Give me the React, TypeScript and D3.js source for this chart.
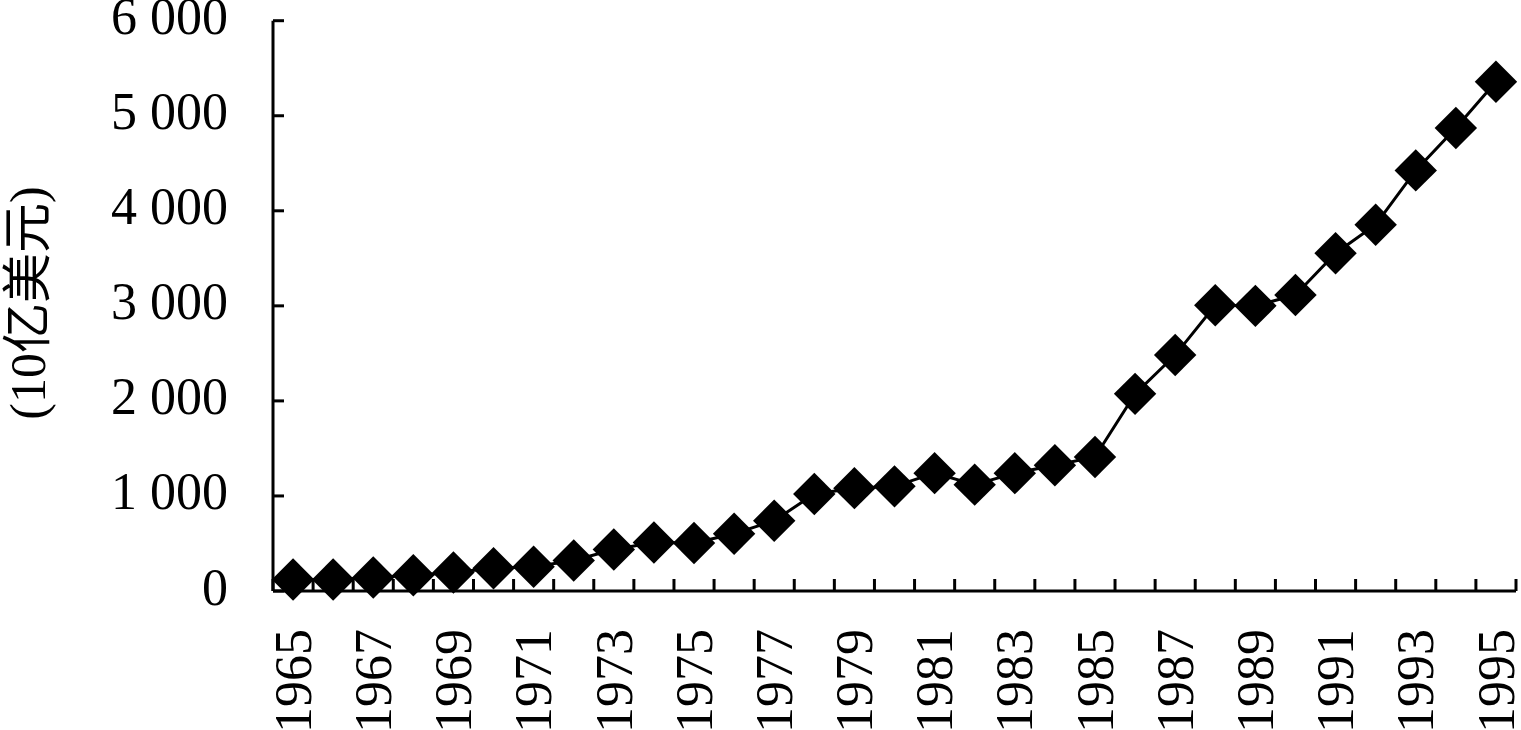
import React from "react";
import * as d3 from "d3";

const years: number[] = [
  1965, 1966, 1967, 1968, 1969, 1970, 1971, 1972, 1973, 1974, 1975,
  1976, 1977, 1978, 1979, 1980, 1981, 1982, 1983, 1984, 1985,
  1986, 1987, 1988, 1989, 1990, 1991, 1992, 1993, 1994, 1995,
];
const values: number[] = [
  121, 121, 142, 165, 195, 239, 256, 321, 437, 511, 505,
  603, 740, 1020, 1082, 1101, 1240, 1119, 1240, 1323, 1410,
  2074, 2482, 3006, 3000, 3115, 3554, 3854, 4425, 4872, 5357,
];
const yTicks: number[] = [0, 1000, 2000, 3000, 4000, 5000, 6000];
const yTickLabels: string[] = ["0", "1 000", "2 000", "3 000", "4 000", "5 000", "6 000"];
const xLabelYears: number[] = years.filter((y) => (y - 1965) % 2 === 0);
const yTitle = "(10亿美元)";

const W = 1521;
const H = 730;
const left = 273;
const right = 1516;
const top = 20.7;
const bottom = 591;
const font = "'Liberation Serif', 'Times New Roman', serif";

export default function App() {
  const x = d3
    .scaleBand<number>()
    .domain(years)
    .range([left, right])
    .paddingInner(0)
    .paddingOuter(0);
  const y = d3.scaleLinear().domain([0, 6000]).range([bottom, top]);
  const cx = (yr: number) => (x(yr) as number) + x.bandwidth() / 2;

  const line = d3
    .line<number>()
    .x((_, i) => cx(years[i]))
    .y((v) => y(v));

  const diamond = d3.symbol().type(d3.symbolSquare).size(900)() as string;

  // boundaries between categories for ticks
  const boundaries = years.map((yr) => x(yr) as number).concat([right]);

  return (
    <svg
      width={W}
      height={H}
      style={{ position: "absolute", left: 0, top: 0, background: "#fff" }}
    >
      <rect x={0} y={0} width={W} height={H} fill="#fff" />
      {/* y axis */}
      <line x1={left} x2={left} y1={top} y2={bottom} stroke="#000" strokeWidth={3} />
      {yTicks.map((t, i) => (
        <g key={t}>
          <line x1={left} x2={left + 11} y1={y(t)} y2={y(t)} stroke="#000" strokeWidth={3} />
          <text
            x={228}
            y={y(t)}
            dy="0.26em"
            textAnchor="end"
            fontFamily={font}
            fontSize={52}
            fill="#000"
          >
            {yTickLabels[i]}
          </text>
        </g>
      ))}
      {/* x axis */}
      <line x1={left} x2={right} y1={bottom} y2={bottom} stroke="#000" strokeWidth={3} />
      {boundaries.map((b, i) => (
        <line key={i} x1={b} x2={b} y1={bottom} y2={bottom - 12} stroke="#000" strokeWidth={3} />
      ))}
      {xLabelYears.map((yr) => (
        <text
          key={yr}
          transform={`translate(${cx(yr)},${bottom + 38}) rotate(-90)`}
          dy="0.34em"
          textAnchor="end"
          fontFamily={font}
          fontSize={52}
          fill="#000"
        >
          {yr}
        </text>
      ))}
      {/* y title */}
      <text
        transform={`translate(${27},${303}) rotate(-90)`}
        dy="0.35em"
        textAnchor="middle"
        fontFamily={`'Liberation Serif', 'Noto Sans CJK SC', serif`}
        fontSize={50}
        fill="#000"
      >
        {yTitle}
      </text>
      {/* line */}
      <path d={line(values) as string} fill="none" stroke="#000" strokeWidth={3} />
      {values.map((v, i) => (
        <path
          key={years[i]}
          d={diamond}
          transform={`translate(${cx(years[i])},${y(v)}) rotate(45)`}
          fill="#000"
        />
      ))}
    </svg>
  );
}
